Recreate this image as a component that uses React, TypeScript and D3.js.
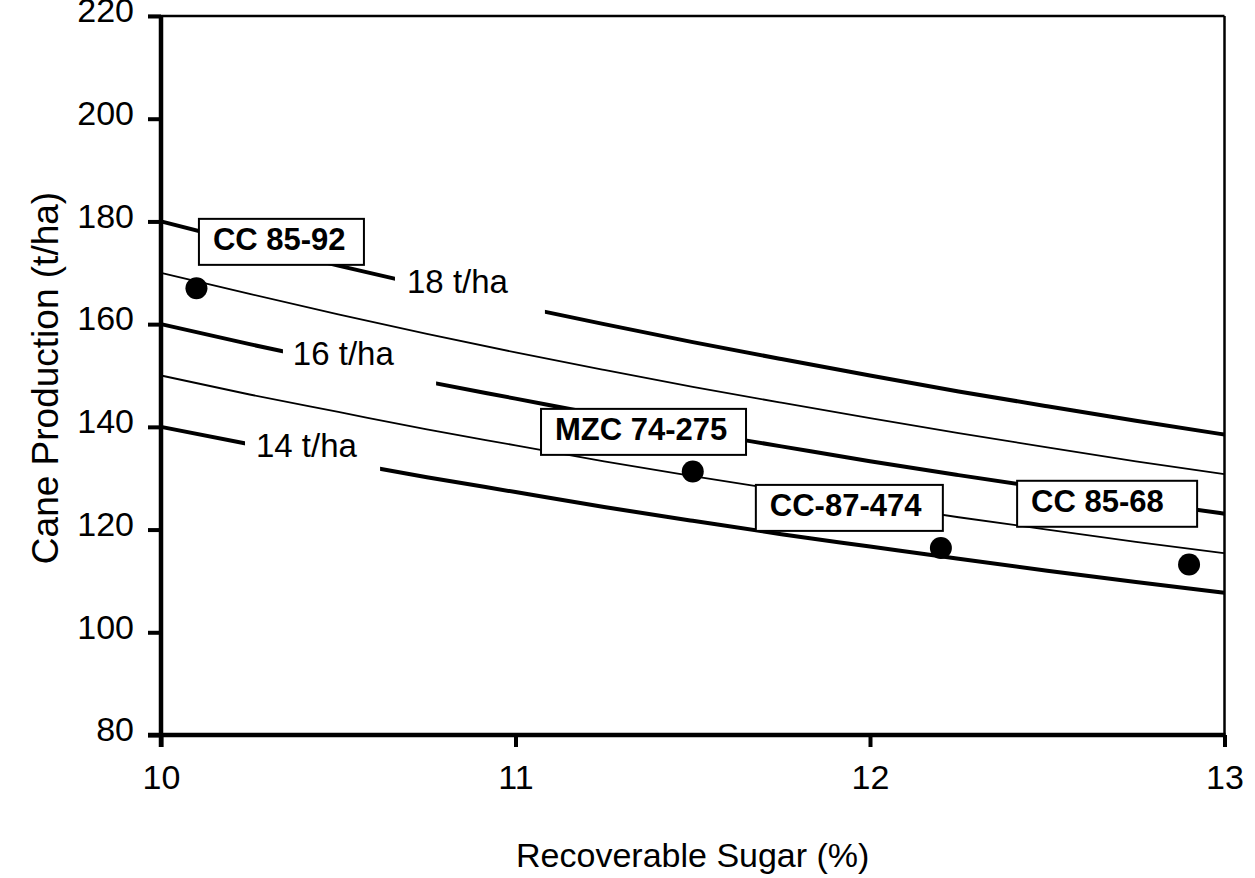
import React, { useRef, useEffect } from 'react';
import * as d3 from 'd3';

// recoverable sugar (%) where the yield isolines are sampled
const sugarPct = [10, 10.25, 10.5, 10.75, 11, 11.25, 11.5, 11.75, 12, 12.25, 12.5, 12.75, 13];

// cane production (t/ha) along each sugar-yield isoline
const yield18 = [180, 175.6, 171.4, 167.4, 163.6, 160, 156.5, 153.2, 150, 146.9, 144, 141.2, 138.5];
const yield17 = [170, 165.9, 161.9, 158.1, 154.5, 151.1, 147.8, 144.7, 141.7, 138.8, 136, 133.3, 130.8];
const yield16 = [160, 156.1, 152.4, 148.8, 145.5, 142.2, 139.1, 136.2, 133.3, 130.6, 128, 125.5, 123.1];
const yield15 = [150, 146.3, 142.9, 139.5, 136.4, 133.3, 130.4, 127.7, 125, 122.4, 120, 117.6, 115.4];
const yield14 = [140, 136.6, 133.3, 130.2, 127.3, 124.4, 121.7, 119.1, 116.7, 114.3, 112, 109.8, 107.7];

// varieties
const varieties = ['CC 85-92', 'MZC 74-275', 'CC-87-474', 'CC 85-68'];
const varietySugar = [10.1, 11.5, 12.2, 12.9];
const varietyCane = [167, 131.3, 116.4, 113.2];

// axis ticks
const xTicks = [10, 11, 12, 13];
const yTicks = [80, 100, 120, 140, 160, 180, 200, 220];

const isolines = [
  { name: '18 t/ha', values: yield18, heavy: true },
  { name: '17 t/ha', values: yield17, heavy: false },
  { name: '16 t/ha', values: yield16, heavy: true },
  { name: '15 t/ha', values: yield15, heavy: false },
  { name: '14 t/ha', values: yield14, heavy: true },
];

// where the labelled isolines break for their text (sugar %), and the text anchor
const lineLabels = [
  { name: '18 t/ha', gap: [10.66, 11.083], at: [10.694, 166.1] },
  { name: '16 t/ha', gap: [10.344, 10.776], at: [10.372, 152.0] },
  { name: '14 t/ha', gap: [10.237, 10.618], at: [10.268, 134.1] },
];

// boxed variety names: top-left corner in data units, box width in px
const boxLabels = [
  { at: [10.107, 180.5], w: 165 },
  { at: [11.072, 143.5], w: 205 },
  { at: [11.678, 128.7], w: 187 },
  { at: [12.415, 129.5], w: 180 },
];

const FONT = "'Liberation Sans', Arial, Helvetica, sans-serif";

const App = () => {
  const svgRef = useRef(null);

  useEffect(() => {
    const width = 1255;
    const height = 878;
    const left = 161, right = 1224.5, top = 16, bottom = 735;

    const svg = d3.select(svgRef.current)
      .attr('width', width)
      .attr('height', height)
      .style('background', '#fff');
    svg.selectAll('*').remove();

    const x = d3.scaleLinear().domain([10, 13]).range([left, right]);
    const y = d3.scaleLinear().domain([80, 220]).range([bottom, top]);

    const defs = svg.append('defs');

    // isolines
    const line = d3.line()
      .x((d) => x(d[0]))
      .y((d) => y(d[1]))
      .curve(d3.curveMonotoneX);

    isolines.forEach((iso, i) => {
      const pts = sugarPct.map((s, k) => [s, iso.values[k]]);
      const path = svg.append('path')
        .datum(pts)
        .attr('d', line)
        .attr('fill', 'none')
        .attr('stroke', '#000')
        .attr('stroke-width', iso.heavy ? 4 : 1.8);

      const lbl = lineLabels.find((l) => l.name === iso.name);
      if (lbl) {
        const id = `gap-${i}`;
        const mask = defs.append('mask')
          .attr('id', id)
          .attr('maskUnits', 'userSpaceOnUse')
          .attr('x', 0).attr('y', 0)
          .attr('width', width).attr('height', height);
        mask.append('rect')
          .attr('width', width).attr('height', height)
          .attr('fill', '#fff');
        mask.append('rect')
          .attr('x', x(lbl.gap[0]))
          .attr('width', x(lbl.gap[1]) - x(lbl.gap[0]))
          .attr('y', 0).attr('height', height)
          .attr('fill', '#000');
        path.attr('mask', `url(#${id})`);

        svg.append('text')
          .attr('x', x(lbl.at[0]))
          .attr('y', y(lbl.at[1]))
          .attr('font-family', FONT)
          .attr('font-size', 33)
          .text(lbl.name);
      }
    });

    // boxed variety names
    varieties.forEach((name, i) => {
      const b = boxLabels[i];
      const bx = x(b.at[0]);
      const by = y(b.at[1]);
      svg.append('rect')
        .attr('x', bx).attr('y', by)
        .attr('width', b.w).attr('height', 46)
        .attr('fill', '#fff')
        .attr('stroke', '#000')
        .attr('stroke-width', 2);
      svg.append('text')
        .attr('x', bx + 14)
        .attr('y', by + 31)
        .attr('font-family', FONT)
        .attr('font-weight', 'bold')
        .attr('font-size', 31)
        .text(name);
    });

    // variety points
    svg.selectAll('.variety')
      .data(varieties)
      .enter()
      .append('circle')
      .attr('class', 'variety')
      .attr('cx', (d, i) => x(varietySugar[i]))
      .attr('cy', (d, i) => y(varietyCane[i]))
      .attr('r', 11)
      .attr('fill', '#000');

    // frame: heavy left/bottom axes, lighter top/right
    svg.append('line')
      .attr('x1', left - 13).attr('x2', right)
      .attr('y1', top).attr('y2', top)
      .attr('stroke', '#000').attr('stroke-width', 2.5);
    svg.append('line')
      .attr('x1', right).attr('x2', right)
      .attr('y1', top).attr('y2', bottom)
      .attr('stroke', '#000').attr('stroke-width', 2.5);

    const xAxis = svg.append('g')
      .attr('transform', `translate(0,${bottom})`)
      .call(d3.axisBottom(x).tickValues(xTicks).tickSize(12).tickPadding(18).tickFormat(d3.format('d')));
    const yAxis = svg.append('g')
      .attr('transform', `translate(${left},0)`)
      .call(d3.axisLeft(y).tickValues(yTicks).tickSize(13).tickPadding(14).tickFormat(d3.format('d')));

    [xAxis, yAxis].forEach((g) => {
      g.select('.domain').remove();
      g.selectAll('line').attr('stroke', '#000').attr('stroke-width', 4);
      g.selectAll('text')
        .attr('font-family', FONT)
        .attr('font-size', 34)
        .attr('fill', '#000');
    });
    yAxis.selectAll('text').attr('dy', '0.17em');

    svg.append('line')
      .attr('x1', left).attr('x2', left)
      .attr('y1', top - 1).attr('y2', bottom + 12)
      .attr('stroke', '#000').attr('stroke-width', 4.5);
    svg.append('line')
      .attr('x1', left - 13).attr('x2', right + 1)
      .attr('y1', bottom).attr('y2', bottom)
      .attr('stroke', '#000').attr('stroke-width', 4.5);

    // axis titles
    svg.append('text')
      .attr('x', (left + right) / 2)
      .attr('y', 867)
      .attr('text-anchor', 'middle')
      .attr('font-family', FONT)
      .attr('font-size', 34)
      .text('Recoverable Sugar (%)');
    svg.append('text')
      .attr('transform', 'translate(58,378) rotate(-90)')
      .attr('text-anchor', 'middle')
      .attr('font-family', FONT)
      .attr('font-size', 37)
      .text('Cane Production (t/ha)');
  }, []);

  return (
    <div style={{ position: 'absolute', left: 0, top: 0 }}>
      <svg ref={svgRef}></svg>
    </div>
  );
};

export default App;
